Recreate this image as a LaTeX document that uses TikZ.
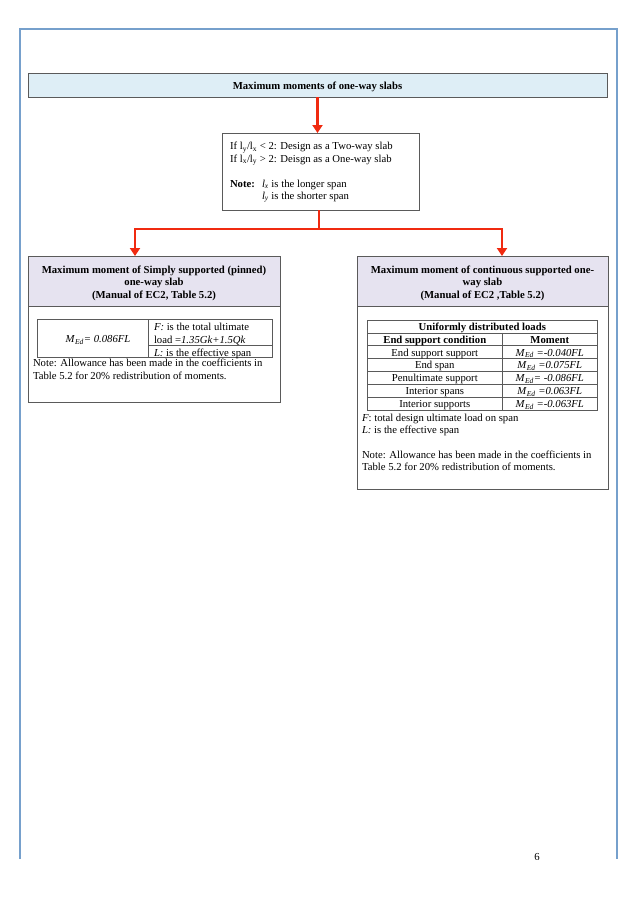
\documentclass[tikz,border=0pt]{standalone}
\usepackage{fontspec}
\setmainfont{Liberation Serif}
\usetikzlibrary{arrows.meta}
\definecolor{frameblue}{HTML}{76A0CC}
\definecolor{titlefill}{HTML}{DEEEF6}
\definecolor{headfill}{HTML}{E6E3F0}
\definecolor{boxline}{HTML}{5A5A5A}
\definecolor{arrowred}{HTML}{F02A10}
\newcommand{\Med}{\textit{M}\textsubscript{\textit{Ed}}}
\newcommand{\fs}{\fontsize{10.7}{13}\selectfont}
\begin{document}
\begin{tikzpicture}[x=1pt,y=-1pt,
  every node/.style={font=\fs, inner sep=0pt, outer sep=0pt},
  box/.style={draw=boxline, line width=0.9pt, rectangle},
  cell/.style={text height=7.4pt, text depth=2.2pt, yshift=-1.2pt},
  lline/.style={cell, anchor=west},
  arr/.style={draw=arrowred, line width=2.6pt, -{Triangle[width=10pt,length=8pt]}},
  redline/.style={draw=arrowred, line width=2.6pt},
  tline/.style={draw=boxline, line width=0.7pt}]
\useasboundingbox (0,0) rectangle (638,903);
% page frame
\draw[frameblue, line width=1.8pt] (20,859) -- (20,29) -- (617,29) -- (617,859);
\begin{scope}
  \clip (500,845) rectangle (580,859.5);
  \node[cell] (pnum) at (537,857) {6};
\end{scope}
% title
\node[box, fill=titlefill, minimum width=579pt, minimum height=24pt] (title) at (317.5,85.3) {};
\node[cell, font=\fs\bfseries] (titletext) at (317.5,85.6) {Maximum moments of one-way slabs};
% condition box
\node[box, fill=white, minimum width=197pt, minimum height=77pt] (cond) at (320.5,171.5) {};
\node[lline] (c1) at (230,145.7) {If l\textsubscript{y}/l\textsubscript{x} {\textless} 2: Design as a Two-way slab};
\node[lline] (c2) at (230,158.3) {If l\textsubscript{x}/l\textsubscript{y} {\textgreater} 2: Deisgn as a One-way slab};
\node[lline, font=\fs\bfseries] (c3) at (230,183.3) {Note:};
\node[lline] (c4) at (262,183.3) {\textit{l\textsubscript{x}} is the longer span};
\node[lline] (c5) at (262,195.5) {\textit{l\textsubscript{y}} is the shorter span};
% left box
\node[box, fill=white, minimum width=252pt, minimum height=146pt] (lbox) at (154,329) {};
\node[box, fill=headfill, minimum width=252pt, minimum height=50pt] (lhead) at (154,281) {};
\node[align=center, font=\fontsize{10.7}{12.5}\selectfont\bfseries] (lht) at (154,283) {Maximum moment of Simply supported (pinned)\\one-way slab\\(Manual of EC2, Table 5.2)};
\draw[tline] (37,319) rectangle (272,357.3);
\draw[tline] (148.3,319) -- (148.3,357.3);
\draw[tline] (148.3,345.5) -- (272,345.5);
\node[cell] (lm) at (98,339) {\Med\textit{= 0.086FL}};
\node[lline] (lf1) at (154,327) {\textit{F:} is the total ultimate};
\node[lline] (lf2) at (154,340) {load =\textit{1.35Gk+1.5Qk}};
\node[lline] (lf3) at (154,352.2) {\textit{L:} is the effective span};
\node[lline] (ln1) at (33,363) {Note: Allowance has been made in the coefficients in};
\node[lline] (ln2) at (33,375.5) {Table 5.2 for 20\% redistribution of moments.};
% right box
\node[box, fill=white, minimum width=251pt, minimum height=233pt] (rbox) at (482.5,372.5) {};
\node[box, fill=headfill, minimum width=251pt, minimum height=50pt] (rhead) at (482.5,281) {};
\node[align=center, font=\fontsize{10.7}{12.5}\selectfont\bfseries] (rht) at (482.5,283) {Maximum moment of continuous supported one-\\way slab\\(Manual of EC2 ,Table 5.2)};
\draw[tline] (367.3,320) rectangle (597.3,410);
\draw[tline] (502.3,332.9) -- (502.3,410);
\foreach \yy in {332.9,345.7,358.6,371.4,384.3,397.1} \draw[tline] (367.3,\yy) -- (597.3,\yy);
\node[cell, font=\fs\bfseries] (u0) at (482.3,326.5) {Uniformly distributed loads};
\node[cell, font=\fs\bfseries] (a0) at (434.8,339.3) {End support condition};
\node[cell, font=\fs\bfseries] (b0) at (549.8,339.3) {Moment};
\node[cell] (a1) at (434.8,352.2) {End support support};
\node[cell] (b1) at (549.8,352.2) {\Med\textit{ =-0.040FL}};
\node[cell] (a2) at (434.8,365) {End span};
\node[cell] (b2) at (549.8,365) {\Med\textit{ =0.075FL}};
\node[cell] (a3) at (434.8,377.9) {Penultimate support};
\node[cell] (b3) at (549.8,377.9) {\Med\textit{= -0.086FL}};
\node[cell] (a4) at (434.8,390.7) {Interior spans};
\node[cell] (b4) at (549.8,390.7) {\Med\textit{ =0.063FL}};
\node[cell] (a5) at (434.8,403.6) {Interior supports};
\node[cell] (b5) at (549.8,403.6) {\Med\textit{ =-0.063FL}};
\node[lline] (rf1) at (362,417.5) {\textit{F}: total design ultimate load on span};
\node[lline] (rf2) at (362,429.8) {\textit{L:} is the effective span};
\node[lline] (rn1) at (362,454.5) {Note: Allowance has been made in the coefficients in};
\node[lline] (rn2) at (362,467) {Table 5.2 for 20\% redistribution of moments.};
% connectors
\draw[arr] (title.south) -- (cond.north -| title.south);
\draw[redline] ([xshift=-1.5pt]cond.south) -- ++(0,19) coordinate (split);
\draw[arr] ([xshift=1.3pt]split) -| ([xshift=-19pt]lhead.north);
\draw[arr] ([xshift=-1.3pt]split) -| ([xshift=19.5pt]rhead.north);
\end{tikzpicture}
\end{document}
